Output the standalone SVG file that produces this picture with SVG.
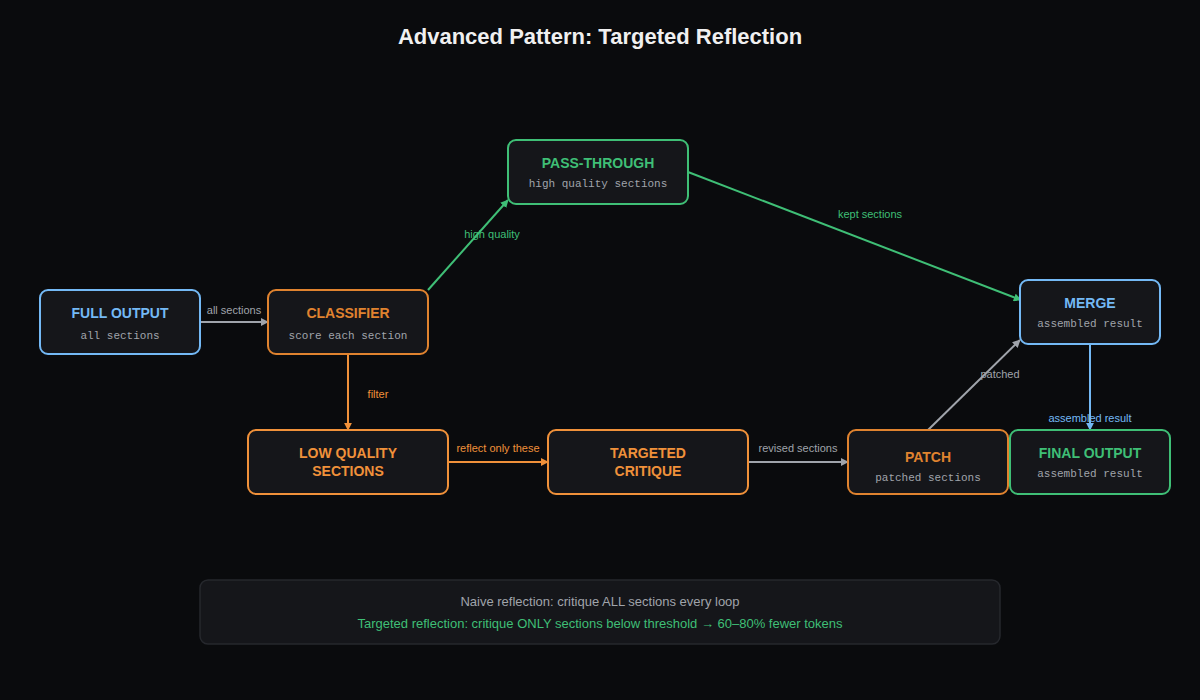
<svg xmlns="http://www.w3.org/2000/svg" width="1200" height="700" viewBox="0 0 1200 700">
<defs>
<style>
.n{fill:#15161a;stroke-width:2}
.t{font-family:"Liberation Sans",Arial,sans-serif;font-weight:bold;font-size:14px;text-anchor:middle}
.s{font-family:"Liberation Mono","Courier New",monospace;font-size:11px;fill:#a0a4ab;text-anchor:middle}
.l{font-family:"Liberation Sans",Arial,sans-serif;font-size:11px;text-anchor:middle}
.c{fill:none;stroke-width:2}
</style>
<marker id="ag" viewBox="0 0 10 10" refX="9" refY="5" markerWidth="8" markerHeight="8" orient="auto" markerUnits="userSpaceOnUse"><path d="M0,0L10,5L0,10z" fill="#a0a4ab"/></marker>
<marker id="ao" viewBox="0 0 10 10" refX="9" refY="5" markerWidth="8" markerHeight="8" orient="auto" markerUnits="userSpaceOnUse"><path d="M0,0L10,5L0,10z" fill="#f0913a"/></marker>
<marker id="agr" viewBox="0 0 10 10" refX="9" refY="5" markerWidth="8" markerHeight="8" orient="auto" markerUnits="userSpaceOnUse"><path d="M0,0L10,5L0,10z" fill="#3fbf76"/></marker>
<marker id="ab" viewBox="0 0 10 10" refX="9" refY="5" markerWidth="8" markerHeight="8" orient="auto" markerUnits="userSpaceOnUse"><path d="M0,0L10,5L0,10z" fill="#74b9f5"/></marker>
</defs>
<rect width="1200" height="700" fill="#0a0b0d"/>
<text x="600" y="44" font-family="'Liberation Sans',Arial,sans-serif" font-weight="bold" font-size="22" fill="#f0f0f0" text-anchor="middle">Advanced Pattern: Targeted Reflection</text>
<g id="connectors">
<line class="c" x1="200" y1="322" x2="268" y2="322" stroke="#a0a4ab" marker-end="url(#ag)"/>
<text class="l" x="234" y="314" fill="#a0a4ab">all sections</text>
<line class="c" x1="428" y1="290" x2="508" y2="200" stroke="#3fbf76" marker-end="url(#agr)"/>
<text class="l" x="492" y="238" fill="#3fbf76">high quality</text>
<line class="c" x1="688" y1="172" x2="1021" y2="300" stroke="#3fbf76" marker-end="url(#agr)"/>
<text class="l" x="870" y="218" fill="#3fbf76">kept sections</text>
<line class="c" x1="348" y1="354" x2="348" y2="430" stroke="#f0913a" marker-end="url(#ao)"/>
<text class="l" x="378" y="398" fill="#f0913a">filter</text>
<line class="c" x1="448" y1="462" x2="548" y2="462" stroke="#f0913a" marker-end="url(#ao)"/>
<text class="l" x="498" y="452" fill="#f0913a">reflect only these</text>
<line class="c" x1="748" y1="462" x2="848" y2="462" stroke="#a0a4ab" marker-end="url(#ag)"/>
<text class="l" x="798" y="452" fill="#a0a4ab">revised sections</text>
<line class="c" x1="928" y1="430" x2="1020" y2="340" stroke="#a0a4ab" marker-end="url(#ag)"/>
<text class="l" x="1000" y="378" fill="#a0a4ab">patched</text>
<line class="c" x1="1090" y1="344" x2="1090" y2="430" stroke="#74b9f5" marker-end="url(#ab)"/>
<text class="l" x="1090" y="422" fill="#74b9f5">assembled result</text>
</g>
<g id="full"><rect class="n" x="40" y="290" width="160" height="64" rx="8" stroke="#74b9f5"/><text class="t" x="120" y="318" fill="#74b9f5">FULL OUTPUT</text><text class="s" x="120" y="339">all sections</text></g>
<g id="classifier"><rect class="n" x="268" y="290" width="160" height="64" rx="8" stroke="#e0832f"/><text class="t" x="348" y="318" fill="#e0832f">CLASSIFIER</text><text class="s" x="348" y="339">score each section</text></g>
<g id="pass"><rect class="n" x="508" y="140" width="180" height="64" rx="8" stroke="#3fbf76"/><text class="t" x="598" y="168" fill="#3fbf76" font-size="13">PASS-THROUGH</text><text class="s" x="598" y="187">high quality sections</text></g>
<g id="merge"><rect class="n" x="1020" y="280" width="140" height="64" rx="8" stroke="#74b9f5"/><text class="t" x="1090" y="308" fill="#74b9f5">MERGE</text><text class="s" x="1090" y="327">assembled result</text></g>
<g id="low"><rect class="n" x="248" y="430" width="200" height="64" rx="8" stroke="#f0913a"/><text class="t" x="348" y="458" fill="#f0913a" font-size="13">LOW QUALITY</text><text class="t" x="348" y="476" fill="#f0913a" font-size="13">SECTIONS</text></g>
<g id="critique"><rect class="n" x="548" y="430" width="200" height="64" rx="8" stroke="#f0913a"/><text class="t" x="648" y="458" fill="#f0913a">TARGETED</text><text class="t" x="648" y="476" fill="#f0913a">CRITIQUE</text></g>
<g id="patch"><rect class="n" x="848" y="430" width="160" height="64" rx="8" stroke="#e0832f"/><text class="t" x="928" y="462" fill="#e0832f">PATCH</text><text class="s" x="928" y="481">patched sections</text></g>
<g id="final"><rect class="n" x="1010" y="430" width="160" height="64" rx="8" stroke="#3fbf76"/><text class="t" x="1090" y="458" fill="#3fbf76">FINAL OUTPUT</text><text class="s" x="1090" y="477">assembled result</text></g>
<g id="note"><rect x="200" y="580" width="800" height="64" rx="8" fill="#15161a" stroke="#26282d" stroke-width="1.5"/>
<text x="600" y="606" font-family="'Liberation Sans',Arial,sans-serif" font-size="13" fill="#a0a4ab" text-anchor="middle">Naive reflection: critique ALL sections every loop</text>
<text x="600" y="628" font-family="'Liberation Sans',Arial,sans-serif" font-size="13" fill="#3fbf76" text-anchor="middle">Targeted reflection: critique ONLY sections below threshold → 60–80% fewer tokens</text></g>
</svg>
